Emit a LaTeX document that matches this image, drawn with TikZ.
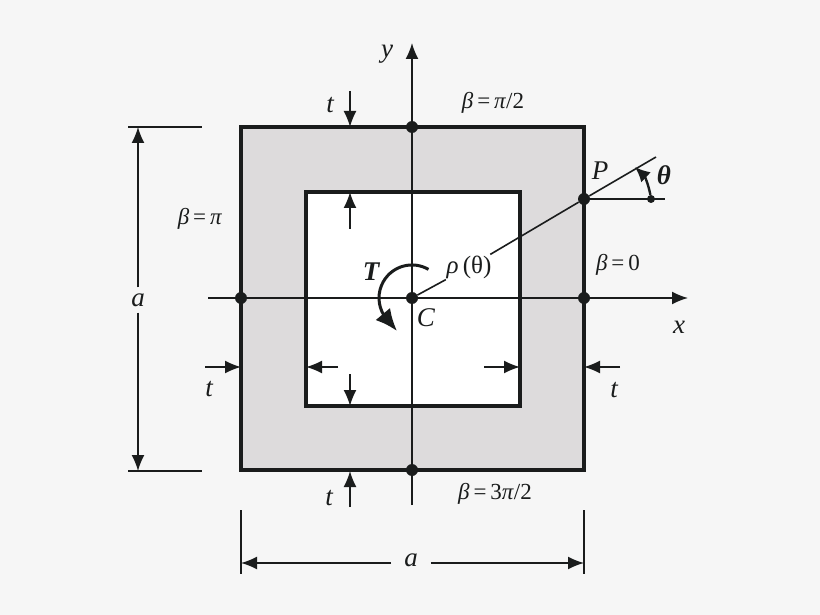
\documentclass[tikz,border=0pt]{standalone}
\usepackage{fontspec}
\setmainfont{Liberation Serif}
\usetikzlibrary{arrows.meta}
\definecolor{pagegray}{HTML}{F6F6F6}
\definecolor{wallgray}{HTML}{DDDBDC}
\definecolor{inkblack}{HTML}{1A1C1C}
\tikzset{
  lbl/.style={inner sep=0pt,text=inkblack,font=\fontsize{27}{29}\selectfont\itshape},
  sublbl/.style={inner sep=0pt,text=inkblack,font=\fontsize{23}{25}\selectfont},
  pointdot/.style={circle,fill=inkblack,inner sep=0pt,minimum size=12pt},
  smalldot/.style={circle,fill=inkblack,inner sep=0pt,minimum size=8pt},
  wall/.style={draw=inkblack,line width=3.4pt},
  thin line/.style={draw=inkblack,line width=1.6pt},
  arrowline/.style={thin line,-{Latex[length=16pt,width=13pt]}},
  thickarrow/.style={draw=inkblack,line width=3pt,-{Latex[length=22pt,width=19pt]}}
}
\begin{document}
\begin{tikzpicture}[x=1pt,y=-1pt]
  \useasboundingbox (0,0) rectangle (820,615);
  \fill[pagegray] (0,0) rectangle (820,615);

  % Walls of the section
  \coordinate (o1) at (241,127);
  \coordinate (o2) at (584,470);
  \coordinate (i1) at (306,192);
  \coordinate (i2) at (520,406);
  \fill[wallgray] (o1) rectangle (o2);
  \fill[white] (i1) rectangle (i2);
  \draw[wall] (o1) rectangle (o2);
  \draw[wall] (i1) rectangle (i2);

  % Specification of nodes (position, etc.)
  \node[pointdot] (c) at (412,298) {};
  \node[pointdot] (p) at (584,199) {};
  \node[pointdot] (top) at (412,127) {};
  \node[pointdot] (bot) at (412,470) {};
  \node[pointdot] (lft) at (241,298) {};
  \node[pointdot] (rgt) at (584,298) {};
  \node[smalldot] (q) at (651,199) {};

  \coordinate (xa) at (208,298);
  \coordinate (xb) at (688,298);
  \coordinate (ya) at (412,505);
  \coordinate (yb) at (412,43);
  \coordinate (rayend) at (656,157);
  \coordinate (horend) at (665,199);
  \coordinate (thtip) at (635,167);

  % Labels
  \node[lbl] (ylab) at (387,54) {y};
  \node[lbl] (xlab) at (679,327) {x};
  \node[lbl] (clab) at (426,318) {C};
  \node[lbl] (plab) at (600,171) {P};
  \node[lbl,font=\fontsize{27}{29}\selectfont\bfseries\itshape] (thlab) at (664,175) {θ};
  \node[lbl,font=\fontsize{27}{29}\selectfont\bfseries\itshape] (tlab) at (371,272) {T};
  \node[sublbl,font=\fontsize{25}{27}\selectfont,inner sep=1pt] (rho) at (469,267) {\textit{ρ}\,(θ)};
  \node[sublbl] (b1) at (493,103) {\textit{β}\,=\,\textit{π}/2};
  \node[sublbl] (b2) at (200,219) {\textit{β}\,=\,\textit{π}};
  \node[sublbl] (b3) at (618,265) {\textit{β}\,=\,0};
  \node[sublbl] (b4) at (495,494) {\textit{β}\,=\,3\textit{π}/2};
  \node[lbl,inner sep=6pt] (avert) at (138,300) {a};
  \node[lbl,inner sep=13pt] (ahor) at (411,560) {a};
  \node[lbl] (t1) at (330,105) {t};
  \node[lbl] (t2) at (329,498) {t};
  \node[lbl] (t3) at (209,389) {t};
  \node[lbl] (t4) at (614,390) {t};

  % Axes and the radial line
  \draw[arrowline] (xa) -- (xb);
  \draw[arrowline] (ya) -- (yb);
  \draw[thin line] (c) -- (rho);
  \draw[thin line] (rho) -- (p);
  \draw[thin line] (p) -- (rayend);
  \draw[thin line] (p) -- (horend);
  \draw[thickarrow,line width=2.4pt,-{Latex[length=15pt,width=14pt]}] (q) to[bend right=18] (thtip);

  % Torque arrow
  \coordinate (torq) at (428.5,269.4);
  \coordinate (torqtip) at (397,331);
  \draw[thickarrow] (torq) arc[start angle=60,end angle=212,radius=33pt] -- (torqtip);

  % Dimension lines
  \coordinate (ah1) at (128,127);
  \coordinate (ah2) at (202,127);
  \coordinate (ah3) at (128,471);
  \coordinate (ah4) at (202,471);
  \coordinate (atop) at (138,127);
  \coordinate (abot) at (138,471);
  \draw[thin line] (ah1) -- (ah2);
  \draw[thin line] (ah3) -- (ah4);
  \draw[arrowline] (avert) -- (atop);
  \draw[arrowline] (avert) -- (abot);

  \coordinate (av1) at (241,510);
  \coordinate (av2) at (241,574);
  \coordinate (av3) at (584,510);
  \coordinate (av4) at (584,574);
  \coordinate (aleft) at (241,563);
  \coordinate (aright) at (584,563);
  \draw[thin line] (av1) -- (av2);
  \draw[thin line] (av3) -- (av4);
  \draw[arrowline] (ahor.west |- aleft) -- (aleft);
  \draw[arrowline] (ahor.east |- aright) -- (aright);

  % Thickness arrows
  \coordinate (t1a) at (350,91);
  \coordinate (t1b) at (350,127);
  \coordinate (t2a) at (350,229);
  \coordinate (t2b) at (350,192);
  \coordinate (t3a) at (350,374);
  \coordinate (t3b) at (350,406);
  \coordinate (t4a) at (350,507);
  \coordinate (t4b) at (350,471);
  \coordinate (t5a) at (205,367);
  \coordinate (t5b) at (241,367);
  \coordinate (t6a) at (338,367);
  \coordinate (t6b) at (306,367);
  \coordinate (t7a) at (484,367);
  \coordinate (t7b) at (520,367);
  \coordinate (t8a) at (620,367);
  \coordinate (t8b) at (584,367);
  \draw[arrowline] (t1a) -- (t1b);
  \draw[arrowline] (t2a) -- (t2b);
  \draw[arrowline] (t3a) -- (t3b);
  \draw[arrowline] (t4a) -- (t4b);
  \draw[arrowline] (t5a) -- (t5b);
  \draw[arrowline] (t6a) -- (t6b);
  \draw[arrowline] (t7a) -- (t7b);
  \draw[arrowline] (t8a) -- (t8b);

\end{tikzpicture}
\end{document}
